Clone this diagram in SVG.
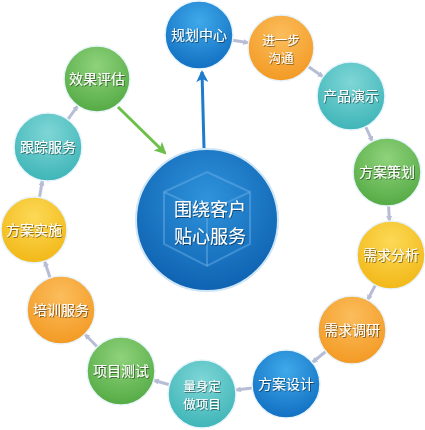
<svg xmlns="http://www.w3.org/2000/svg" width="425" height="430" viewBox="0 0 425 430">
<defs>
<radialGradient id="gBlue" cx="50%" cy="30%" r="70%"><stop offset="0" stop-color="#3fa9ea"/><stop offset="1" stop-color="#1270c2"/></radialGradient>
<radialGradient id="gOrange" cx="50%" cy="30%" r="70%"><stop offset="0" stop-color="#fbbd5c"/><stop offset="1" stop-color="#f39a24"/></radialGradient>
<radialGradient id="gTeal" cx="50%" cy="30%" r="70%"><stop offset="0" stop-color="#7fd6d6"/><stop offset="1" stop-color="#3fb5b8"/></radialGradient>
<radialGradient id="gGreen" cx="50%" cy="30%" r="70%"><stop offset="0" stop-color="#8fd27b"/><stop offset="1" stop-color="#55ab45"/></radialGradient>
<radialGradient id="gYellow" cx="50%" cy="30%" r="70%"><stop offset="0" stop-color="#fcd956"/><stop offset="1" stop-color="#f2b818"/></radialGradient>
<radialGradient id="gBig" cx="50%" cy="35%" r="70%"><stop offset="0" stop-color="#2f93dc"/><stop offset="1" stop-color="#0c5fae"/></radialGradient>
<filter id="sh" x="-20%" y="-20%" width="140%" height="140%"><feDropShadow dx="0.8" dy="0.8" stdDeviation="0.6" flood-color="#000" flood-opacity="0.55"/></filter>
<marker id="ag" markerWidth="6" markerHeight="6" refX="5" refY="3" orient="auto" markerUnits="userSpaceOnUse"><path d="M0,0 L6,3 L0,6 z" fill="#b8bdd6"/></marker>
<marker id="ablue" markerWidth="14" markerHeight="12" refX="10" refY="6" orient="auto" markerUnits="userSpaceOnUse"><path d="M0,0 L12,6 L0,12 L3,6 z" fill="#1f7ccc"/></marker>
<marker id="agreen" markerWidth="14" markerHeight="12" refX="10" refY="6" orient="auto" markerUnits="userSpaceOnUse"><path d="M0,0 L12,6 L0,12 L3,6 z" fill="#6cc04a"/></marker>
</defs>
<style>
.n{stroke:#e8f4fb;stroke-width:1.5}
.t{font-family:"Noto Sans CJK SC","Noto Sans",sans-serif;font-size:14px;fill:#fff;text-anchor:middle;filter:url(#sh)}
.t2{font-family:"Noto Sans CJK SC","Noto Sans",sans-serif;font-size:12.5px;fill:#fff;text-anchor:middle;filter:url(#sh)}
.tb{font-family:"Noto Sans CJK SC","Noto Sans",sans-serif;font-size:18px;fill:#fff;text-anchor:middle;filter:url(#sh)}
.c{stroke:#b8bdd6;stroke-width:3;fill:none;marker-end:url(#ag)}
</style>
<rect width="425" height="430" fill="#fff"/>
<g id="connectors">
<line class="c" x1="232.6" y1="40.3" x2="248.4" y2="42.8"/>
<line class="c" x1="308.2" y1="66.6" x2="323" y2="76.8"/>
<line class="c" x1="365.6" y1="126.7" x2="372.4" y2="141.3"/>
<line class="c" x1="388.6" y1="206" x2="389.4" y2="221"/>
<line class="c" x1="375.3" y1="285.2" x2="367.7" y2="299.8"/>
<line class="c" x1="325.7" y1="351.5" x2="312.3" y2="362.5"/>
<line class="c" x1="252.2" y1="388" x2="235.8" y2="390"/>
<line class="c" x1="169.3" y1="384.7" x2="153.7" y2="380.3"/>
<line class="c" x1="97.2" y1="346.8" x2="84.8" y2="334.2"/>
<line class="c" x1="50.1" y1="277.8" x2="44.6" y2="261.3"/>
<line class="c" x1="39.5" y1="197.5" x2="42.4" y2="180.5"/>
<line class="c" x1="67.9" y1="119.4" x2="77.7" y2="105.8"/>
<line x1="204" y1="148" x2="202" y2="72" stroke="#1f7ccc" stroke-width="3" marker-end="url(#ablue)"/>
<line x1="118" y1="107" x2="165" y2="153" stroke="#6cc04a" stroke-width="3" marker-end="url(#agreen)"/>
</g>
<g id="center">
<circle cx="207" cy="220" r="71" fill="url(#gBig)" stroke="#cfe6f7" stroke-width="2"/>
<g fill="none" stroke="#6fb4e8" stroke-opacity="0.45" stroke-width="2">
<path d="M207,172 L250,192 L250,244 L207,266 L164,244 L164,192 Z"/>
<path d="M164,192 L207,212 L250,192 M207,212 L207,266"/>
</g>
<text class="tb" x="210" y="216">围绕客户</text>
<text class="tb" x="210" y="243">贴心服务</text>
</g>
<g id="n1"><circle class="n" cx="199" cy="35" r="34" fill="url(#gBlue)"/><text class="t" x="199" y="40">规划中心</text></g>
<g id="n2"><circle class="n" cx="281" cy="48" r="33" fill="url(#gOrange)"/><text class="t2" x="281" y="45">进一步</text><text class="t2" x="281" y="63.3">沟通</text></g>
<g id="n3"><circle class="n" cx="351" cy="96" r="34" fill="url(#gTeal)"/><text class="t" x="351" y="101">产品演示</text></g>
<g id="n4"><circle class="n" cx="387" cy="172" r="34" fill="url(#gGreen)"/><text class="t" x="387" y="177">方案策划</text></g>
<g id="n5"><circle class="n" cx="391" cy="255" r="34" fill="url(#gYellow)"/><text class="t" x="391" y="260">需求分析</text></g>
<g id="n6"><circle class="n" cx="352" cy="330" r="34" fill="url(#gOrange)"/><text class="t" x="352" y="335">需求调研</text></g>
<g id="n7"><circle class="n" cx="286" cy="384" r="34" fill="url(#gBlue)"/><text class="t" x="286" y="389">方案设计</text></g>
<g id="n8"><circle class="n" cx="202" cy="394" r="34" fill="url(#gTeal)"/><text class="t2" x="202" y="391">量身定</text><text class="t2" x="202" y="409.3">做项目</text></g>
<g id="n9"><circle class="n" cx="121" cy="371" r="34" fill="url(#gGreen)"/><text class="t" x="121" y="376">项目测试</text></g>
<g id="n10"><circle class="n" cx="61" cy="310" r="34" fill="url(#gOrange)"/><text class="t" x="61" y="315">培训服务</text></g>
<g id="n11"><circle class="n" cx="34" cy="230" r="33" fill="url(#gYellow)"/><text class="t" x="34" y="235">方案实施</text></g>
<g id="n12"><circle class="n" cx="48" cy="147" r="34" fill="url(#gTeal)"/><text class="t" x="48" y="152">跟踪服务</text></g>
<g id="n13"><circle class="n" cx="97" cy="79" r="33" fill="url(#gGreen)"/><text class="t" x="97" y="84">效果评估</text></g>
</svg>
